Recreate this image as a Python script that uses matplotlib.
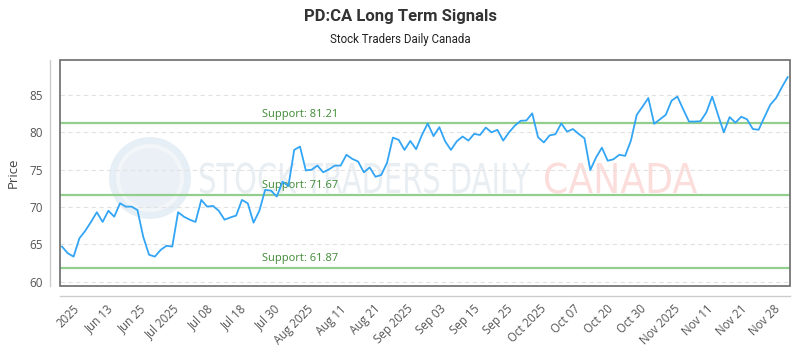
"""
PD:CA long term signals
"""

import matplotlib
matplotlib.use("Agg")
import matplotlib.pyplot as plt
import matplotlib.patches as patches
from matplotlib.font_manager import FontProperties
from matplotlib.textpath import TextPath
from matplotlib.transforms import Affine2D
import numpy as np

# price series, one point per trading day
prices = [
    64.7, 63.8, 63.35, 65.8, 66.8, 68.0, 69.3, 68.0, 69.5, 68.7,
    70.5, 70.05, 70.05, 69.6, 66.0, 63.6, 63.35, 64.25, 64.8, 64.7,
    69.3, 68.7, 68.3, 68.0, 70.95, 70.05, 70.15, 69.5, 68.3, 68.6,
    68.85, 70.95, 70.5, 67.9, 69.5, 72.3, 72.2, 71.4, 73.4, 72.8,
    77.65, 78.1, 74.9, 75.0, 75.55, 74.65, 75.05, 75.55, 75.55, 77.0,
    76.45, 76.1, 74.65, 75.3, 74.05, 74.3, 75.95, 79.3, 79.0, 77.65,
    78.85, 77.75, 79.65, 81.2, 79.5, 80.7, 78.8, 77.65, 78.8, 79.45,
    78.9, 79.8, 79.65, 80.65, 80.0, 80.35, 78.9, 80.0, 80.9, 81.55,
    81.6, 82.55, 79.35, 78.65, 79.6, 79.75, 81.2, 80.1, 80.45, 79.8,
    79.2, 74.95, 76.65, 77.95, 76.2, 76.4, 77.0, 76.85, 78.9, 82.35,
    83.45, 84.6, 81.15, 81.75, 82.35, 84.25, 84.8, 83.1, 81.45, 81.45,
    81.5, 82.7, 84.8, 82.35, 80.0, 82.05, 81.3, 82.1, 81.75, 80.45,
    80.35, 82.05, 83.7, 84.6, 86.05, 87.4,
]

tick_labels = [
    "2025", "Jun 13", "Jun 25", "Jul 2025", "Jul 08", "Jul 18", "Jul 30",
    "Aug 2025", "Aug 11", "Aug 21", "Sep 2025", "Sep 03", "Sep 15", "Sep 25",
    "Oct 2025", "Oct 07", "Oct 20", "Oct 30", "Nov 2025", "Nov 11", "Nov 21",
    "Nov 28",
]

supports = [81.21, 71.67, 61.87]

title = "PD:CA Long Term Signals"
subtitle = "Stock Traders Daily Canada"

plt.rcParams["font.family"] = ["Open Sans", "DejaVu Sans"]

W, H = 800, 350
fig = plt.figure(figsize=(W / 100, H / 100), dpi=100)
ax = fig.add_axes([0.075, 0.183, 0.9125, 0.646])

x = np.arange(len(prices))


def condensed_text(s, x0, y0, width, cap, color):
    # text drawn as a squeezed path (pixel box: left x0, baseline y0 from top)
    tp = TextPath((0, 0), s, size=1, prop=FontProperties(family="DejaVu Sans"))
    ext = tp.get_extents()
    sx = width / ext.width / W
    sy = cap / 0.729 / H
    tr = Affine2D().translate(-ext.x0, 0).scale(sx, sy).translate(x0 / W, 1 - y0 / H)
    patch = patches.PathPatch(tp, transform=tr + fig.transFigure,
                              facecolor=color, edgecolor="none", zorder=0.5)
    ax.add_artist(patch)
    patch.set_clip_on(False)


# watermark
for r, c in [(41, "#e7eff6"), (34, "#f3f6f9"), (30, "#eaf0f5")]:
    ax.add_patch(patches.Ellipse((150 / W, 1 - 178 / H), 2 * r / W, 2 * r / H,
                                 transform=fig.transFigure, facecolor=c,
                                 edgecolor="none", zorder=0.4))
condensed_text("STOCK TRADERS DAILY", 200, 193, 330, 30, "#e9eef3")
condensed_text("CANADA", 545, 193, 152, 30, "#fbdedc")

# support levels
for s in supports:
    ax.axhline(s, color="#93cf8c", lw=1.6, zorder=2)
    ax.annotate(f"Support: {s:.2f}", xy=(34.5, s), xytext=(0, 2.5),
                textcoords="offset points", fontsize=8, color="#3f8a34",
                ha="left", va="bottom", zorder=3)

ax.plot(x, prices, color="#33a5f5", lw=1.3, zorder=4)

for side in ["top", "right"]:
    ax.spines[side].set_visible(False)
for side in ["left", "bottom"]:
    ax.spines[side].set_position(("outward", 7.2))
    ax.spines[side].set_color("#cccccc")
    ax.spines[side].set_linewidth(1.0)

ax.set_xlim(-0.34, 125.4)
ax.set_ylim(59.42, 89.72)

ax.set_yticks([60, 65, 70, 75, 80, 85])
ax.yaxis.grid(True, color="#e2e2e2", linestyle=(0, (4, 3)), lw=0.8)
ax.set_axisbelow(True)

ticks = np.linspace(2.7, 123.3, len(tick_labels))
ax.set_xticks(ticks)
ax.set_xticklabels(tick_labels, rotation=45, ha="right", va="center",
                   rotation_mode="anchor", fontsize=8.3, color="#555555")
ax.tick_params(axis="x", length=0, pad=8)
ax.tick_params(axis="y", length=0, pad=5, labelsize=8.5, labelcolor="#555555")

frame = patches.Rectangle((0, 0), 1, 1, transform=ax.transAxes, fill=False,
                          edgecolor="#6b6b6b", lw=1.2, zorder=5, clip_on=False)
ax.add_patch(frame)

ax.set_ylabel("Price", fontsize=9.5, color="#444444", labelpad=7)

fig.text(0.5, 0.954, title, ha="center", va="center", fontsize=12,
         fontweight="bold", family=["Roboto", "DejaVu Sans"], color="#333333")
fig.text(0.5, 0.886, subtitle, ha="center", va="center", fontsize=8.3,
         family=["Roboto", "DejaVu Sans"], color="#222222")

fig.savefig("out.png", dpi=100)
